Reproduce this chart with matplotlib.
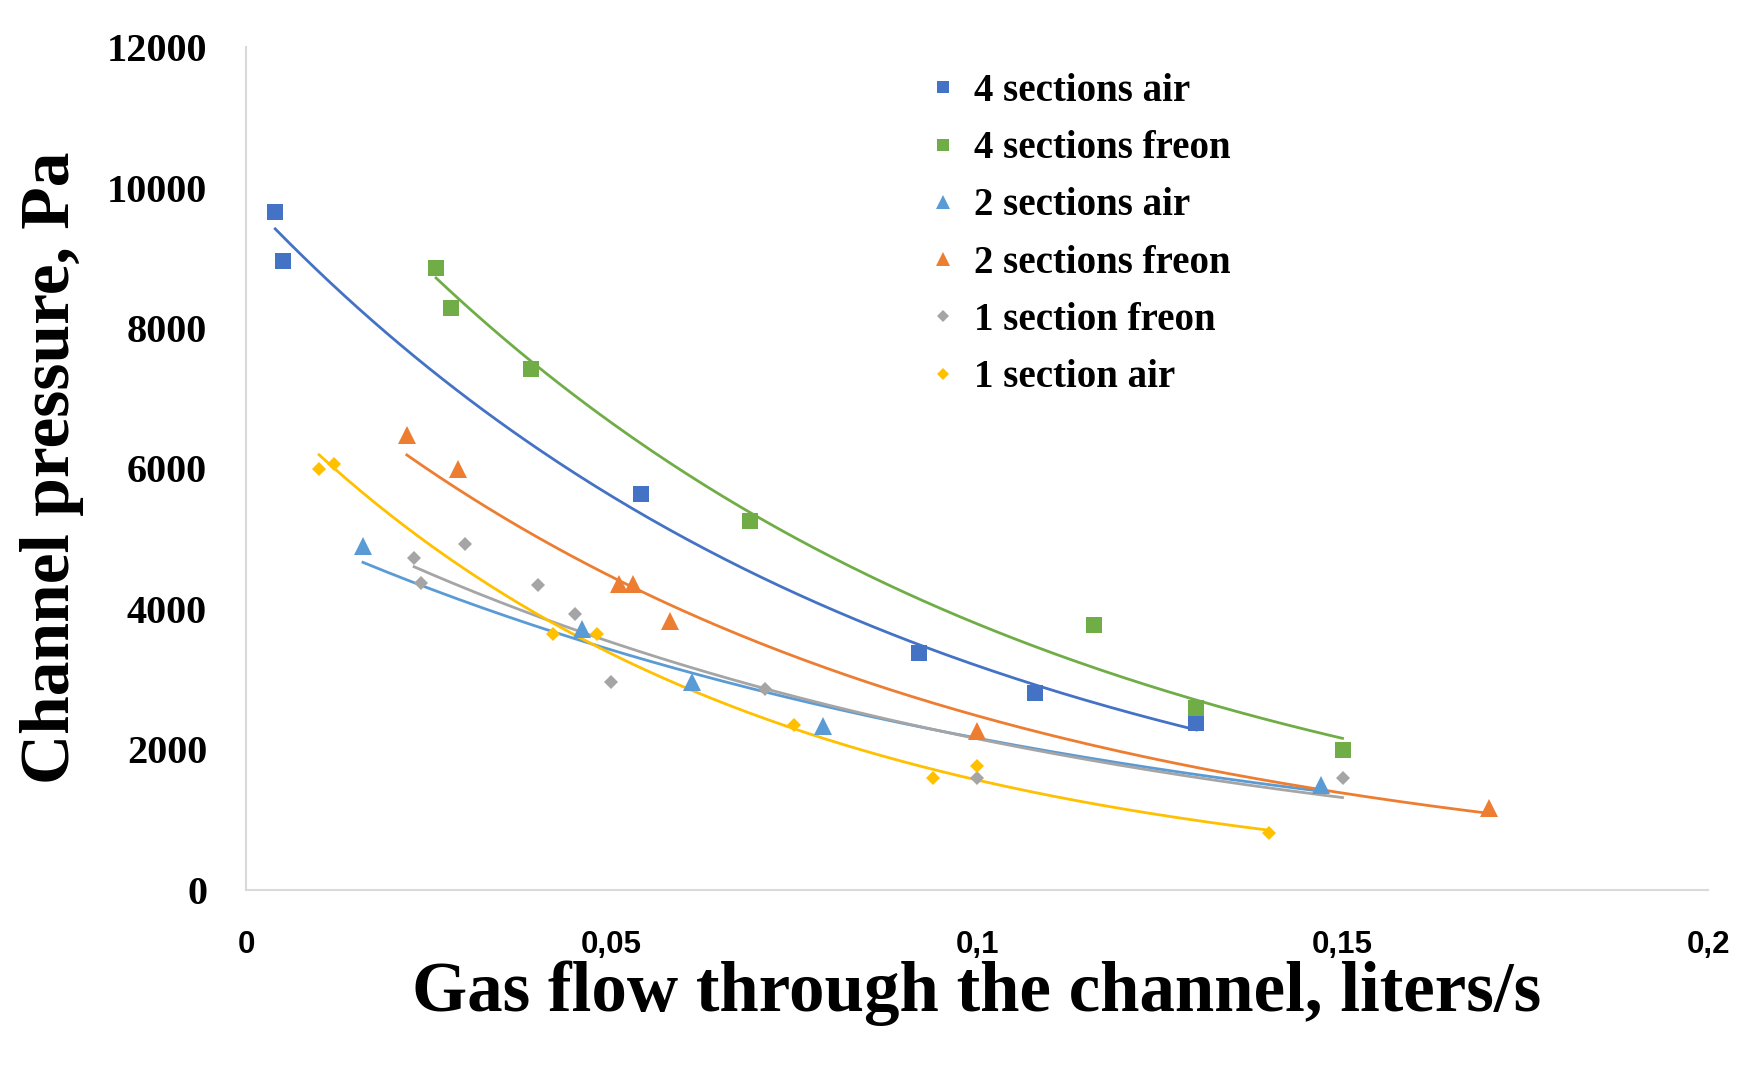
import numpy as np
import matplotlib
matplotlib.use("Agg")
import matplotlib.pyplot as plt
from matplotlib import font_manager

# ---- data ----
labels = ["4 sections air", "4 sections freon", "2 sections air",
          "2 sections freon", "1 section freon", "1 section air"]

x_4air = [0.004, 0.005, 0.054, 0.092, 0.108, 0.130]
y_4air = [9650, 8960, 5640, 3370, 2800, 2370]

x_4freon = [0.026, 0.028, 0.039, 0.069, 0.116, 0.130, 0.150]
y_4freon = [8850, 8280, 7410, 5250, 3770, 2590, 1990]

x_2air = [0.016, 0.046, 0.061, 0.079, 0.147]
y_2air = [4900, 3720, 2960, 2340, 1490]

x_2freon = [0.022, 0.029, 0.051, 0.053, 0.058, 0.100, 0.170]
y_2freon = [6470, 5990, 4350, 4350, 3830, 2260, 1160]

x_1freon = [0.023, 0.024, 0.030, 0.040, 0.045, 0.050, 0.071, 0.100, 0.150]
y_1freon = [4720, 4370, 4930, 4340, 3930, 2960, 2860, 1590, 1590]

x_1air = [0.010, 0.012, 0.042, 0.048, 0.075, 0.094, 0.100, 0.140]
y_1air = [5990, 6070, 3640, 3640, 2350, 1590, 1760, 810]

x_ticks = [0, 0.05, 0.1, 0.15, 0.2]
x_ticklabels = ["0", "0,05", "0,1", "0,15", "0,2"]
y_ticks = [0, 2000, 4000, 6000, 8000, 10000, 12000]

series = [(x_4air, y_4air), (x_4freon, y_4freon), (x_2air, y_2air),
          (x_2freon, y_2freon), (x_1freon, y_1freon), (x_1air, y_1air)]
colors = ["#4472C4", "#70AD47", "#5B9BD5", "#ED7D31", "#A5A5A5", "#FFC000"]
markers = ["s", "s", "^", "^", "D", "D"]
msizes = [11, 11, 13, 13, 7.5, 7.5]

serif = ["Liberation Serif", "DejaVu Serif"]
avail = {f.name for f in font_manager.fontManager.ttflist}
narrow = "Liberation Sans Narrow" if "Liberation Sans Narrow" in avail else "Liberation Sans"
xt_size = 25 if narrow == "Liberation Sans Narrow" else 22.5

fig = plt.figure(figsize=(17.52, 10.76), dpi=100)
ax = fig.add_axes([0.1404, 0.1729, 0.9749 - 0.1404, 0.9563 - 0.1729])

handles = []
for (xs, ys), c, m, ms, lab in zip(series, colors, markers, msizes, labels):
    xs = np.asarray(xs, float)
    ys = np.asarray(ys, float)
    # Excel-style exponential trendline (least squares on ln y)
    b, lna = np.polyfit(xs, np.log(ys), 1)
    xf = np.linspace(xs.min(), xs.max(), 200)
    ax.plot(xf, np.exp(lna + b * xf), color=c, lw=2.0, zorder=2)
    h, = ax.plot(xs, ys, linestyle="none", marker=m, markersize=ms,
                 color=c, markeredgewidth=0, zorder=3, label=lab)
    handles.append(h)

ax.set_xlim(0, 0.2)
ax.set_ylim(0, 12000)
ax.set_xticks(x_ticks)
ax.set_xticklabels(x_ticklabels)
ax.set_yticks(y_ticks)
ax.tick_params(length=0)
ax.tick_params(axis="y", pad=28)
ax.tick_params(axis="x", pad=29)
for t in ax.get_yticklabels():
    t.set_fontfamily(serif)
    t.set_fontweight("bold")
    t.set_fontsize(29)
for t in ax.get_xticklabels():
    t.set_fontfamily([narrow, "DejaVu Sans"])
    t.set_fontweight("bold")
    t.set_fontsize(xt_size)

for s in ["top", "right"]:
    ax.spines[s].set_visible(False)
for s in ["left", "bottom"]:
    ax.spines[s].set_color("#D9D9D9")
    ax.spines[s].set_linewidth(1.5)

fig.text(874 / 1568, 1 - 993 / 1076, "Gas flow through the channel, liters/s",
         ha="center", va="center", fontsize=51, fontweight="bold",
         family=serif)
fig.text(52 / 1752, 1 - 468 / 1076, "Channel pressure, Pa", rotation=90,
         ha="center", va="center", fontsize=50, fontweight="bold",
         family=serif)

leg = fig.legend(handles=handles, loc="upper left",
                 bbox_to_anchor=(927 / 1752, 1 - 73 / 1076),
                 frameon=False, prop={"family": serif, "weight": "bold", "size": 28},
                 markerscale=0.75, handlelength=0.8, handletextpad=0.4,
                 labelspacing=0.52, borderpad=0, borderaxespad=0)

fig.savefig("out.png", dpi=100, facecolor="white")
